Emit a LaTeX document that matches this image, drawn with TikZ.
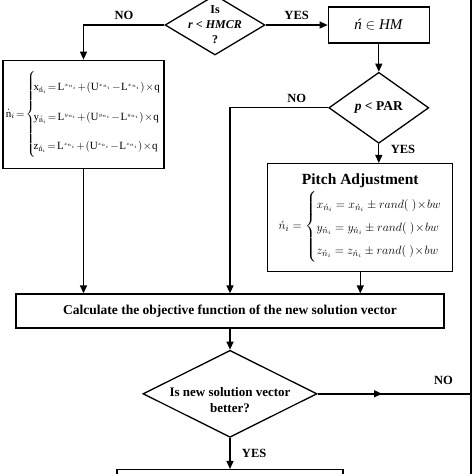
\documentclass[tikz,border=0pt]{standalone}
\usepackage{amsmath,amssymb}
\usepackage{fontspec}
\setmainfont{Liberation Serif}
\usepackage{tikz}
\usetikzlibrary{shapes.geometric,arrows.meta,positioning,calc,decorations.markings}

\newcommand{\sps}[1]{^{\scriptscriptstyle #1}}
\begin{document}
\begin{tikzpicture}[
  x=1pt, y=1pt,
  every node/.style={font=\fontsize{12}{14}\selectfont},
  box/.style={draw=black, line width=1.3pt, inner sep=0pt, align=center},
  dec/.style={diamond, draw=black, line width=1.3pt, inner sep=0pt},
  arr/.style={-{Triangle[length=8pt,width=7pt]}, line width=1.3pt},
  wire/.style={draw=black, line width=1.4pt},
  midarr/.style={postaction={decorate}, decoration={markings,
    mark=at position #1 with {\arrow{Triangle[length=8pt,width=7pt]}}}},
  lab/.style={font=\fontsize{12.5}{14}\selectfont\bfseries}
]
\useasboundingbox (0,0) rectangle (474,-474);

\node[dec, minimum width=100pt, minimum height=60pt,
  label={[align=center, font=\fontsize{12}{15}\selectfont\bfseries]center:Is\\\textit{r} < \textit{HMCR}\\?}] (hmcr) at (215,-25) {};
\node[box, minimum width=101pt, minimum height=36pt, font=\fontsize{15}{17}\selectfont, right=62pt of hmcr] (hm) {\textit{ń} $\in$ \textit{HM}};
\node[dec, minimum width=100pt, minimum height=71pt, below=28pt of hm,
  label={[font=\fontsize{13.5}{15}\selectfont\bfseries]center:\textit{p} < PAR}] (par) {};
\node[box, minimum width=185pt, minimum height=108pt, below=19pt of par, xshift=-18.5pt] (pitch)
  {{\bfseries\fontsize{15.5}{16}\selectfont Pitch Adjustment}\\[3pt]
   {\fontsize{13}{15}\selectfont$\renewcommand{\arraystretch}{1.55}\acute{n}_i=\left\{\begin{array}{@{}l@{}}
   x_{\acute{n}_i}=x_{\acute{n}_i}\pm rand(\ )\!\times\! bw\\
   y_{\acute{n}_i}=y_{\acute{n}_i}\pm rand(\ )\!\times\! bw\\
   z_{\acute{n}_i}=z_{\acute{n}_i}\pm rand(\ )\!\times\! bw
   \end{array}\right.$}};
\node[box, minimum width=161pt, minimum height=108pt, below=4pt of hmcr, xshift=-131.5pt] (rand)
  {\fontsize{11}{14}\selectfont$\renewcommand{\arraystretch}{2.1}\dot{\mathrm{n}}_i\!=\!\left\{\!\begin{array}{@{}l@{}}
   \mathrm{x}_{\acute{\mathrm{n}}_i}\!=\!\mathrm{L}\sps{x_{n_i}}\!+\!(\mathrm{U}\sps{x_{n_i}}\!-\!\mathrm{L}\sps{x_{n_i}})\!\times\!\mathrm{q}\\
   \mathrm{y}_{\acute{\mathrm{n}}_i}\!=\!\mathrm{L}\sps{y_{n_i}}\!+\!(\mathrm{U}\sps{y_{n_i}}\!-\!\mathrm{L}\sps{y_{n_i}})\!\times\!\mathrm{q}\\
   \mathrm{z}_{\acute{\mathrm{n}}_i}\!=\!\mathrm{L}\sps{z_{n_i}}\!+\!(\mathrm{U}\sps{z_{n_i}}\!-\!\mathrm{L}\sps{z_{n_i}})\!\times\!\mathrm{q}
   \end{array}\right.$};
\node[box, minimum width=428pt, minimum height=34pt, font=\fontsize{13.5}{15}\selectfont\bfseries] (calc) at (230,-311)
  {Calculate the objective function of the new solution vector};
\node[dec, minimum width=174pt, minimum height=87pt, below=21pt of calc,
  label={[align=center, yshift=-6pt, font=\fontsize{13}{16}\selectfont\bfseries]center:Is new solution vector\\better?}] (better) {};
\node[box, minimum width=226pt, minimum height=50pt, below=31pt of better] (final) {};

\coordinate (looptop) at (471,0);
\coordinate (loopbot) at (471,-474);
\coordinate (loopc) at (better.east -| looptop);

\draw[arr] (hmcr) -- node[lab, above=1pt] {YES} (hm);
\draw[arr] (hmcr.west) -| node[lab, pos=0.25, above=1pt] {NO} (rand.north);
\draw[arr] (hm) -- (par);
\draw[arr] (par.west) -| node[lab, pos=0.16, above=1pt] {NO} (calc.north);
\draw[arr] (par.south) -- node[lab, pos=0.3, right=8pt] {YES} (par.south |- pitch.north);
\draw[arr] (pitch.south) -- (pitch.south |- calc.north);
\draw[arr] (rand.south) -- (rand.south |- calc.north);
\draw[arr] (calc) -- (better);
\draw[arr] (better) -- node[lab, right=8pt] {YES} (final);
\draw[wire, midarr=0.42] (better.east) -- node[lab, pos=0.82, above=5pt] {NO} (loopc);
\draw[wire] (loopbot) -- (looptop);
\end{tikzpicture}
\end{document}
